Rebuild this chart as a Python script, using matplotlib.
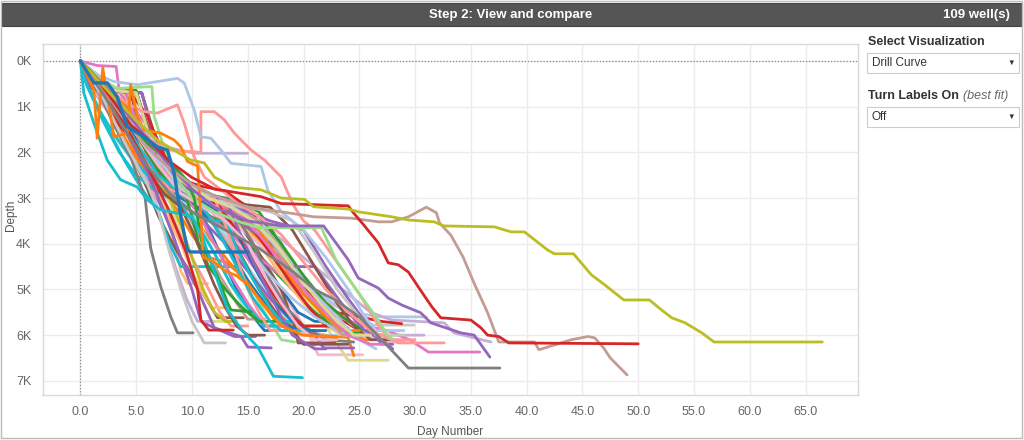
import matplotlib.pyplot as plt
import matplotlib.patches as patches
from matplotlib.ticker import FuncFormatter, MultipleLocator

plt.rcParams['font.family'] = ['Liberation Sans', 'DejaVu Sans']

# drill curves: (day, depth in ft) per well
olive_long = [(0, 0), (1.5, 400), (3, 800), (5, 1300), (7, 1750), (8.1, 1910), (9.9, 2170), (11.1, 2230),
              (12, 2540), (13.7, 2760), (16.2, 2820), (18, 3000), (20.1, 3030), (20.9, 3190), (24, 3240),
              (24.9, 3300), (27.9, 3410), (29.4, 3480), (31.7, 3520), (32.6, 3610), (37.1, 3630), (38.6, 3740),
              (39.8, 3740), (41.9, 4140), (42.5, 4220), (44.2, 4220), (45.8, 4680), (47, 4900), (48.7, 5230),
              (51, 5230), (52.1, 5450), (53, 5620), (54.2, 5730), (55.7, 5950), (56.8, 6150), (66.5, 6150)]
red_long = [(0, 0), (1.5, 400), (3, 900), (4.5, 1400), (6, 1700), (8, 2200), (10, 2550), (12, 2800),
            (16.2, 2970), (18, 3120), (24, 3170), (24.4, 3300), (25.4, 3590), (26.7, 3980), (27.6, 4420),
            (28.5, 4460), (29.4, 4620), (30.3, 4950), (31.5, 5380), (32.3, 5620), (35, 5670), (35.9, 5840),
            (36.5, 6000), (37.5, 6030), (38.4, 6170), (50, 6190)]
rosy_long = [(0, 0), (2, 600), (4, 1300), (6, 1900), (8, 2350), (10, 2700), (12, 2950), (15, 3200), (18, 3300),
             (20.9, 3410), (24.3, 3440), (26.7, 3520), (27.9, 3520), (29.4, 3410), (31, 3200), (31.9, 3320),
             (32.2, 3550), (33.2, 3810), (34.3, 4290), (35.3, 4870), (36.5, 5510), (37.5, 6150), (40.7, 6150),
             (41.1, 6320), (44, 6100), (45.5, 6030), (46.1, 6060), (46.9, 6280), (47.5, 6500), (49, 6870)]
gray_long = [(0, 0), (2, 700), (4, 1500), (6, 2300), (8, 2900), (10, 3300), (13, 3700), (16, 4100), (19, 4600),
             (21, 5000), (23, 5250), (25, 5600), (27, 6100), (29.4, 6720), (37.6, 6720)]
purple_long = [(0, 0), (2, 500), (4, 1100), (6, 1700), (8, 2300), (10, 2800), (12, 3200), (15, 3500), (18, 3610),
               (21.8, 3610), (24, 4350), (24.9, 4750), (26.7, 4970), (27.6, 5190), (28.8, 5340), (30.5, 5510),
               (31.4, 5730), (34.1, 5950), (35.3, 6000), (36.7, 6480)]
lblue_hump = [(0, 0), (1.5, 300), (3, 450), (5.1, 520), (8.7, 380), (9.3, 480), (10.2, 1070), (10.8, 1660),
              (11.7, 1690), (12.6, 1950), (13.5, 2240), (16.2, 2310), (16.8, 2830), (18, 3300), (20, 3700),
              (22, 4300), (24, 5000), (25.5, 5600), (26.5, 5900), (29, 5900)]
salmon_peak1 = [(0, 0), (2, 500), (4, 900), (5.5, 1100), (6.9, 1140), (8.7, 960), (9.3, 1360), (10.2, 2100),
                (11.1, 2540), (12.5, 2800), (14, 3100), (16, 3400), (18, 3800), (20, 4400), (22, 5000),
                (24, 5500), (26, 5900), (28.5, 6170), (32.6, 6170)]
salmon_peak2 = [(0, 0), (2, 700), (4, 1300), (6, 1700), (8, 1950), (10.8, 2000), (10.8, 1110), (12, 1110),
                (12.9, 1290), (13.8, 1580), (14.4, 1730), (15.3, 1950), (16.5, 2170), (17.4, 2390), (18, 2540),
                (18.6, 2890), (19.2, 3200), (20, 3500), (21, 3700), (23, 4400), (25, 5100), (27, 5900),
                (28, 6100), (30, 6100)]
lilac_2k = [(0, 0), (2, 600), (4, 1200), (6, 1600), (8, 1900), (10.2, 2020), (15, 2020)]
lgreen_plateau = [(0, 0), (1.5, 350), (3.3, 600), (6.4, 560), (6.6, 1200), (7.3, 1750), (8, 2200), (9, 2700),
                  (10, 3000), (12, 3300), (14, 3500), (16, 3650), (21.6, 3650), (23, 4400), (25, 5100),
                  (26.5, 5600), (27.5, 6000), (28, 6100)]
orange_zig = [(0, 0), (1.2, 630), (1.5, 1690), (2.0, 150), (3.0, 1660), (4.2, 1580), (4.5, 520), (5.1, 1200),
              (5.7, 1510), (7.2, 1580), (8.4, 1730), (9.0, 1880), (9.6, 2200), (10.5, 2300), (10.8, 3400),
              (11, 4300), (12, 4400), (13, 4600), (14, 4700), (15, 4900), (17, 5500), (18, 5800), (20, 6000),
              (23, 6050)]
blue_thick = [(0, 0), (1.2, 480), (2.4, 480), (3.3, 790), (4.2, 1440), (5.7, 1660), (6.9, 1880), (7.8, 1950),
              (8.4, 2450), (9.0, 3410), (9.6, 4140), (9.9, 4180), (15, 4180)]
cyan_deep = [(0, 0), (0.3, 700), (1.2, 1360), (2.4, 2170), (3.6, 2600), (5.1, 2760), (6, 3040), (7.2, 3260),
             (8.7, 3330), (10, 3400), (11, 3900), (12, 4600), (13.2, 5450), (14.5, 5900), (15.9, 6260),
             (17.3, 6900), (19.9, 6930)]
gray_short = [(0, 0), (1.5, 600), (3, 1400), (4.5, 2100), (5.8, 3000), (6.3, 4100), (7.2, 4940), (8.1, 5600),
              (8.7, 5950), (10.1, 5950)]
lgray_short = [(0, 0), (2, 800), (4, 1800), (6, 2700), (7, 3300), (8, 4200), (9, 5000), (10, 5700), (11.1, 6170),
               (13, 6170)]
purple_mid = [(0, 0), (2, 700), (4, 1500), (6, 2400), (7.5, 3300), (9, 4300), (10.5, 5000), (12, 5840),
              (14.4, 6030), (15, 6260), (17.1, 6280)]
red_short = [(0, 0), (2, 600), (4, 1400), (6, 2300), (8, 3300), (9.5, 4200), (10.5, 5000), (10.8, 5670),
             (11.5, 5890), (13.7, 5890)]
green_mid = [(0, 0), (2, 600), (4, 1300), (6, 1800), (8, 2200), (9.5, 2600), (10.2, 3000), (10.9, 4000),
             (12.3, 4720), (13.2, 5300), (13.5, 5450), (15.3, 5490)]

g01 = [(0, 0), (0.8, 500), (4, 650), (5, 1500), (6.5, 2200), (8, 2700), (9.5, 3000), (11, 3400), (12.5, 4200),
       (14, 5000), (15.5, 5600), (16.5, 5900), (18, 5900)]
g02 = [(0, 0), (1, 600), (4.5, 700), (5.5, 1500), (7, 2200), (9, 2700), (11, 3000), (13, 3200), (14.5, 3900),
       (16.5, 4700), (18.5, 5400), (20, 5900), (22, 6000)]
g03 = [(0, 0), (0.8, 400), (2.5, 1100), (4, 1800), (5.5, 2400), (7, 2800), (8, 3500), (9, 4600), (9.6, 4870),
       (11.4, 4870)]
g04 = [(0, 0), (1.5, 600), (5.5, 700), (6.5, 1600), (8, 2300), (10, 2700), (12, 2950), (14, 3050), (16, 3300),
       (18, 4000), (20, 4900), (21.5, 5500), (23, 5900), (25, 5950)]
g05 = [(0, 0), (1, 400), (3, 1000), (5, 1700), (7, 2300), (9, 2800), (11, 3200), (13, 3900), (15, 4800),
       (16.5, 5500), (18, 6100), (19.2, 6150)]
g06 = [(0, 0), (1.2, 550), (5, 650), (6, 1500), (7.5, 2200), (9, 2600), (11, 2750), (13, 2850), (15, 3200),
       (17, 3900), (19, 4600), (21, 5200), (23, 5600), (25, 5900), (27, 6000)]
g07 = [(0, 0), (1, 400), (3, 1000), (4.5, 1600), (6.5, 2300), (8.5, 2800), (10.5, 3200), (12.5, 3700),
       (14.5, 4400), (16.5, 5100), (18, 5700), (19.5, 6000), (21.5, 6000)]
g08 = [(0, 0), (1.5, 500), (3.5, 1200), (5, 2000), (6.5, 2800), (8, 3600), (9, 4300), (10, 5000), (10.8, 5700),
       (12, 5840), (13.8, 6030), (15.7, 6030)]
g09 = [(0, 0), (1, 600), (3, 1300), (5, 2100), (6.5, 2900), (7.5, 3700), (8.5, 4500), (9.5, 5200), (10.5, 5700),
       (12, 5700)]
g10 = [(0, 0), (1, 500), (3, 1200), (4.5, 2000), (6, 2800), (7, 3400), (8.5, 4100), (10, 4700), (11.5, 5300),
       (12.3, 5620), (14.6, 5620)]
g11 = [(0, 0), (0.8, 600), (5, 700), (6, 1400), (7.5, 2100), (9, 2600), (11, 2900), (13, 3100), (15, 3300),
       (17, 3800), (19, 4400), (21, 5000), (23, 5500), (25, 5900), (26.5, 6100), (28, 6100)]
g12 = [(0, 0), (1.5, 100), (3.2, 120), (3.5, 700), (5, 1100), (6.5, 1600), (8, 2200), (9.5, 2700), (11, 3100),
       (12.5, 3500), (14, 4000), (15.5, 4500), (17, 5000), (18.5, 5500), (20, 5900), (21.5, 6000)]
g13 = [(0, 0), (1, 500), (3, 1000), (5, 1700), (7, 2400), (9, 2900), (11, 3300), (13, 3700), (15, 4200),
       (17, 4800), (19, 5400), (20.5, 6000), (21.3, 6430), (25.3, 6430)]
g16 = [(0, 0), (1, 600), (4, 700), (5.5, 1500), (7, 2300), (9, 2800), (11, 3100), (13, 3400), (15, 4200),
       (17, 5000), (18.5, 5600), (20, 5800), (22, 5800)]
g17 = [(0, 0), (1.5, 600), (4.5, 700), (5.5, 1500), (7, 2200), (9, 2700), (11, 3000), (13, 3300), (15, 3700),
       (17, 4300), (19, 4900), (21, 5400), (22.5, 6000), (24, 6550), (27.6, 6550)]
g19 = [(0, 0), (1, 500), (3, 1200), (5, 1900), (7, 2500), (9, 3000), (11, 3300), (13, 3800), (15, 4500),
       (17, 5200), (19, 5800), (20.5, 6000), (23, 6000)]
g20 = [(0, 0), (1.5, 500), (4, 900), (6, 1700), (8, 2500), (10, 3000), (12, 3300), (14, 3700), (16, 4300),
       (18, 5000), (19.5, 5500), (21, 5700), (23, 5700)]
g21 = [(0, 0), (1, 500), (3, 600), (4, 1200), (6, 2000), (8, 2600), (10, 2900), (12, 3100), (14, 3400),
       (16, 3900), (18, 4500), (20, 5100), (22, 5500), (24, 5900), (25.5, 6100), (27, 6100)]
g22 = [(0, 0), (0.8, 300), (2, 800), (3.5, 1300), (5, 2000), (7, 2700), (9, 3200), (11, 3700), (13, 4300),
       (15, 4900), (17, 5400), (19, 5800), (21, 6000), (24, 6050), (24.5, 6450)]
g23 = [(0, 0), (1, 500), (3, 1100), (5, 1800), (7, 2500), (9, 3000), (11, 3300), (13, 3600), (15, 4000),
       (17, 4500), (19, 5000), (21, 5500), (23.5, 5950), (25.3, 5950)]
g24 = [(0, 0), (1.2, 600), (5.5, 700), (6.5, 1500), (8, 2300), (10, 2900), (12, 3200), (14, 3500), (16, 4200),
       (18, 5000), (19.2, 5800), (19.5, 6170), (22.8, 6170)]
g25 = [(0, 0), (1, 500), (3, 1100), (5, 1900), (7, 2600), (9, 3100), (11, 3500), (13, 4000), (15, 4600),
       (17, 5200), (19, 5700), (21, 6000), (21.8, 6280), (24.5, 6280)]
g26 = [(0, 0), (1.5, 600), (5, 700), (6, 1500), (7.5, 2200), (9.5, 2700), (12, 3000), (14, 3200), (16, 3600),
       (18, 4200), (20, 4800), (22, 5300), (24, 5700), (26.3, 6000), (30.8, 6000)]
g27 = [(0, 0), (1, 600), (4, 700), (5, 1400), (6.5, 2100), (8.5, 2600), (10.5, 2900), (12.5, 3000), (14.5, 3200),
       (16.5, 3700), (18.5, 4300), (20.5, 4900), (22.5, 5300), (24.5, 5600), (26.3, 5780), (29.9, 5780)]
g28 = [(0, 0), (1.5, 500), (4, 1000), (6, 1800), (8, 2500), (10, 2900), (12, 3100), (14, 3300), (16, 3700),
       (18, 4200), (20, 4800), (22, 5200), (24, 5500), (27, 5600), (31, 5600)]
g29 = [(0, 0), (1.5, 300), (3, 900), (5, 1700), (7, 2400), (9, 2900), (11, 3300), (13, 3700), (15, 4100),
       (17, 4500), (19, 4900), (21, 5300), (23, 5600), (25.5, 5800), (27.5, 5900), (29.5, 6100), (31.2, 6370),
       (35.8, 6370)]
g30 = [(0, 0), (2, 700), (4, 1300), (6, 1900), (8, 2400), (10, 2800), (12, 3100), (14, 3300), (16, 3600),
       (18, 3900), (20, 4300), (22, 4700), (24, 5100), (26, 5500), (27.9, 5670), (32.6, 5730), (33.5, 5950),
       (36.8, 6150)]
g31 = [(0, 0), (1, 500), (3, 800), (5, 1600), (7, 2300), (9, 2700), (11, 2900), (13, 3200), (15, 3600),
       (17, 4100), (19, 4600), (20.5, 5000), (21.5, 5300), (23.1, 5510), (25, 5600), (27, 5700), (28.8, 5750)]
g33 = [(0, 0), (1, 700), (2.5, 1500), (4, 2200), (5.5, 2800), (7, 3300), (8, 4000), (9, 4500), (13.9, 4500)]
g34 = [(0, 0), (1.5, 500), (4, 700), (5, 1300), (6.5, 2000), (8, 2600), (10, 3000), (12, 3200), (14, 3500),
       (16, 4000), (18, 4700), (20, 5300), (22, 5800), (23.5, 6000), (26, 6000)]
g35 = [(0, 0), (0.7, 600), (2, 1200), (3.5, 1800), (5, 2300), (7, 2700), (9, 3000), (10.5, 3500), (12, 4200),
       (13.5, 4900), (15, 5500), (16.5, 5800), (18, 5800)]
g36 = [(0, 0), (1, 400), (3, 800), (5, 1500), (7, 2100), (9, 2600), (11, 3000), (13, 3400), (15, 3800),
       (17, 4200), (19, 4700), (21, 5100), (23, 5500), (25, 5900), (27, 6150), (29, 6150)]
g37 = [(0, 0), (1, 600), (4.5, 700), (5.5, 1600), (7, 2400), (8.5, 2800), (10, 3100), (12, 3300), (13, 3600),
       (14.5, 4300), (16, 5000), (17.5, 5500), (19, 5900), (20, 6200), (24, 6200)]
g39 = [(0, 0), (1, 500), (3, 700), (4.5, 1500), (6, 2200), (7.5, 2700), (9, 3000), (10.5, 3200), (12, 3600),
       (13.5, 4200), (15, 4800), (16.5, 5300), (18, 5700), (19.5, 5900), (21, 5900)]
g40 = [(0, 0), (1, 500), (2.5, 1100), (4, 1700), (5.5, 2300), (7, 2800), (8.5, 3200), (10, 3800), (11.5, 4300),
       (13, 4400), (14.5, 4700), (16, 5200), (17.5, 5700), (19, 5900), (20.5, 5900)]
g41 = [(0, 0), (1.5, 600), (5, 650), (6, 1500), (7, 2100), (8.5, 2500), (10, 2800), (12, 2950), (14, 3100),
       (16, 3400), (18, 4000), (20, 4700), (22, 5300), (24, 5700), (25.5, 5900), (27, 5900)]
g42 = [(0, 0), (1, 300), (2, 900), (3.5, 1400), (4.5, 1700), (6, 2000), (7.5, 2600), (9, 2800), (11, 2950),
       (13, 3100), (15, 3500), (17, 4200), (19, 4900), (20.5, 5400), (22, 5800), (24, 5850)]
g43 = [(0, 0), (1, 600), (4, 700), (5, 1500), (6.5, 2200), (8, 2700), (10, 3000), (12, 3300), (14, 3500),
       (16, 3800), (18, 4200), (19, 4500), (21, 4500), (22.5, 5000), (24, 5500), (25.5, 5900), (27, 6100),
       (28, 6300)]
g44 = [(0, 0), (1, 500), (3, 1100), (5, 1800), (6.5, 2400), (8, 2800), (9.5, 3300), (11, 4000), (12.5, 4700),
       (14, 5300), (15, 5650), (16.5, 5650)]
g45 = [(0, 0), (1, 400), (3, 900), (4.5, 1400), (6, 2000), (7.5, 2500), (9, 2900), (10.5, 3300), (12, 4000),
       (13.5, 4700), (15, 5300), (16.5, 5800), (18.5, 5800)]
g46 = [(0, 0), (1.2, 600), (5, 700), (6, 1500), (7.5, 2300), (9, 2800), (11, 3000), (13, 3200), (14, 3400),
       (15.5, 4000), (17, 4800), (18.5, 5400), (20, 5800), (22, 6100), (24.5, 6150)]
g48 = [(0, 0), (0.5, 400), (1.5, 1000), (3, 1600), (4.5, 2100), (6, 2500), (7.5, 2900), (9, 3200), (10.5, 3600),
       (12, 4200), (13.5, 4900), (15, 5400), (16.5, 5800), (17.5, 5800)]
g49 = [(0, 0), (1, 600), (3, 1100), (5, 1900), (6.5, 2600), (8, 3100), (9, 3800), (10, 4600), (11, 5300),
       (11.8, 5700), (13, 5700)]
g50 = [(0, 0), (1, 500), (2.5, 1100), (4, 1800), (5.5, 2500), (7, 3000), (8.5, 3600), (10, 4300), (11.5, 5000),
       (12.5, 5500), (13.5, 5800), (15, 5800)]
g51 = [(0, 0), (1, 300), (3, 800), (5, 1500), (7, 2200), (9, 2800), (11, 3100), (13, 3500), (15, 4100),
       (17, 4700), (19, 5200), (21, 5600), (23, 5900), (25, 6100), (26.5, 6300)]
g52 = [(0, 0), (1, 600), (4, 700), (5, 1500), (6, 2300), (7, 2900), (8, 3500), (9, 4000), (10, 4600), (11, 5100),
       (11.8, 5400), (13, 5400)]
g53 = [(0, 0), (1, 600), (5, 700), (6, 1400), (7.5, 2100), (9, 2600), (11, 2900), (13, 3100), (15, 3150),
       (17, 3200), (19, 3700), (21, 4500), (23, 5300), (24.5, 5800), (26, 6100), (28, 6100)]
g54 = [(0, 0), (1.5, 500), (4, 900), (6, 1600), (8, 2300), (10, 2800), (12, 3000), (14, 3200), (16, 3500),
       (18, 4300), (20, 5000), (22, 5600), (23.5, 6000), (25, 6000)]
g55 = [(0, 0), (1, 600), (5.5, 700), (6.5, 1600), (8, 2300), (10, 2800), (12, 3100), (15, 3300), (17, 3500),
       (20, 3700), (22, 4500), (24, 5200), (25.5, 5700), (27, 6200), (28, 6200)]
g56 = [(0, 0), (0.5, 500), (2, 1300), (3.5, 2000), (5, 2500), (6.5, 2800), (8, 3000), (10, 3300), (11.5, 3500),
       (13, 3500), (14, 4100), (15.5, 4800), (17, 5400), (18, 5700), (19.5, 5700)]
g57 = [(0, 0), (1, 500), (3, 800), (4.5, 1400), (6, 2000), (7.5, 2500), (9, 2900), (11, 3100), (13, 3400),
       (14.5, 4000), (16, 4700), (17.5, 5300), (19, 5700), (20.5, 5900), (22, 5900)]
g58 = [(0, 0), (1.5, 500), (3, 700), (4.5, 1100), (6, 1600), (7.5, 2100), (9, 2600), (10.5, 2900), (12, 3100),
       (14, 3300), (16, 3700), (18, 4400), (20, 5100), (22, 5600), (23.5, 5900), (25, 5900)]
g59 = [(0, 0), (1, 500), (4, 650), (5, 1300), (6.5, 2000), (8, 2500), (10, 2900), (12, 3100), (14, 3300),
       (16, 3800), (18, 4400), (20, 5000), (22, 5500), (24, 6000), (26, 6200), (27.5, 6200)]
g60 = [(0, 0), (1, 400), (3, 900), (5, 1600), (6.5, 2200), (8, 2700), (9.5, 3000), (10, 3400), (10.6, 4000),
       (11.5, 4500), (13, 5000), (14.5, 5400), (16, 5700), (17.5, 5700)]
g61 = [(0, 0), (1.5, 600), (4.5, 700), (6, 1200), (7, 1800), (8, 2300), (9.5, 2600), (11, 2900), (12.5, 3200),
       (14, 3700), (15.5, 4400), (17, 5000), (18.5, 5500), (20, 5800), (22, 5800)]
g62 = [(0, 0), (1, 500), (3, 1000), (5, 1600), (7, 2200), (9, 2600), (11, 2900), (13, 3100), (15, 3400),
       (17, 3900), (19, 4500), (21, 5100), (23, 5600), (24.5, 6000), (26, 6000)]
g63 = [(0, 0), (1, 600), (5, 700), (6, 1500), (7.5, 2200), (9, 2700), (11, 3000), (13, 3000), (14, 3600),
       (15.5, 4400), (17, 5100), (18, 5600), (19, 6000), (21, 6300), (22, 6300)]
g64 = [(0, 0), (1, 500), (3, 1000), (5, 1800), (6.5, 2400), (8, 2800), (10, 3000), (12, 3000), (13, 3600),
       (14, 4300), (15, 5000), (16, 5500), (17, 5900), (19, 5900)]
g65 = [(0, 0), (1, 400), (3, 1100), (5, 1900), (6.5, 2600), (8, 3000), (9, 3600), (10, 4300), (11, 5000),
       (12, 5500), (13, 5700), (14, 5700)]
g66 = [(0, 0), (1.5, 600), (5, 700), (6, 1500), (7.5, 2300), (9, 2800), (11, 3000), (13, 3100), (15, 3200),
       (17, 3300), (19, 3500), (21, 4200), (23, 5000), (25, 5600), (26.5, 6000), (29, 6000)]
g67 = [(0, 0), (1, 500), (3, 1100), (5, 1800), (7, 2500), (9, 2900), (11, 3200), (12.5, 3800), (14, 4500),
       (15.5, 5200), (17, 5700), (18, 5900), (20, 5900)]
g68 = [(0, 0), (1, 400), (3, 900), (5, 1600), (7, 2300), (9, 2900), (11, 3200), (13, 3500), (15, 4000),
       (16.5, 4700), (18, 5300), (19.5, 5800), (21, 6100), (23, 6100)]
g69 = [(0, 0), (1.5, 600), (5, 700), (6, 1500), (7.5, 2200), (9.5, 2700), (11.5, 3000), (13.5, 3200),
       (15.5, 3500), (17.5, 4000), (19.5, 4700), (21.5, 5300), (23, 5700), (24.5, 6000), (26, 6000)]
g70 = [(0, 0), (1, 500), (3, 1000), (4.5, 1700), (6, 2400), (7.5, 2900), (9, 3200), (10, 3700), (11, 4300),
       (12, 4900), (13, 5400), (14, 5800), (15, 6000), (16.5, 6000)]

bundle = [
    (g01, '#1f77b4'), (g02, '#aec7e8'), (g03, '#ffbb78'), (g04, '#2ca02c'), (g05, '#98df8a'),
    (g06, '#d62728'), (g07, '#ff9896'), (g08, '#9467bd'), (g09, '#c5b0d5'), (g10, '#8c564b'),
    (g11, '#c49c94'), (g12, '#e377c2'), (g13, '#f7b6d2'), (g16, '#bcbd22'), (g17, '#dbdb8d'),
    (g19, '#9edae5'), (g20, '#1f77b4'), (g21, '#ff7f0e'), (g22, '#ff7f0e'), (g23, '#2ca02c'),
    (g24, '#8c564b'), (g25, '#9467bd'), (g26, '#c5b0d5'), (g27, '#c7c7c7'), (g28, '#aec7e8'),
    (g29, '#e377c2'), (g30, '#c5b0d5'), (g31, '#d62728'), (g33, '#17becf'), (g34, '#ffbb78'),
    (g35, '#9edae5'), (g36, '#f7b6d2'), (g37, '#8c564b'), (g39, '#1f77b4'), (g40, '#ff7f0e'),
    (g41, '#2ca02c'), (g42, '#d62728'), (g43, '#9467bd'), (g44, '#c49c94'), (g45, '#e377c2'),
    (g46, '#7f7f7f'), (g48, '#17becf'), (g49, '#dbdb8d'), (g50, '#ff9896'), (g51, '#aec7e8'),
    (g52, '#ffbb78'), (g53, '#8c564b'), (g54, '#c49c94'), (g55, '#9467bd'), (g56, '#17becf'),
    (g57, '#1f77b4'), (g58, '#ff7f0e'), (g59, '#e377c2'), (g60, '#2ca02c'), (g61, '#d62728'),
    (g62, '#aec7e8'), (g63, '#9467bd'), (g64, '#ff9896'), (g65, '#bcbd22'), (g66, '#c7c7c7'),
    (g67, '#17becf'), (g68, '#f7b6d2'), (g69, '#dbdb8d'), (g70, '#8c564b'),
    (lilac_2k, '#c5b0d5'), (salmon_peak1, '#ff9896'), (salmon_peak2, '#ff9896'), (lblue_hump, '#aec7e8'),
    (lgreen_plateau, '#98df8a'), (gray_short, '#7f7f7f'), (lgray_short, '#c7c7c7'), (purple_mid, '#9467bd'),
    (red_short, '#d62728'), (green_mid, '#2ca02c'), (cyan_deep, '#17becf'), (orange_zig, '#ff7f0e'),
    (purple_long, '#9467bd'), (gray_long, '#7f7f7f'), (rosy_long, '#c49c94'), (red_long, '#d62728'),
    (olive_long, '#bcbd22'), (blue_thick, '#1f77b4'),
]

W, H = 1024, 440
fig = plt.figure(figsize=(W / 100, H / 100), dpi=100)
fig.patch.set_facecolor('white')


def fx(px):
    return px / W


def fy(py):
    return 1 - py / H


# title bar and outer frame
fig.patches.append(patches.Rectangle((fx(2), fy(26)), fx(1020), 23 / H, transform=fig.transFigure,
                                     facecolor='#555555', edgecolor='#444444', lw=0.8))
fig.patches.append(patches.Rectangle((fx(1), fy(438)), fx(1021), 437 / H, transform=fig.transFigure,
                                     facecolor='none', edgecolor='#bbbbbb', lw=1))
fig.text(fx(511), fy(15), 'Step 2: View and compare', color='white', fontsize=9.5, fontweight='bold',
         ha='center', va='center', family=['Liberation Sans Narrow', 'Liberation Sans', 'DejaVu Sans'])
fig.text(fx(1010), fy(15), '109 well(s)', color='white', fontsize=9.5, fontweight='bold',
         ha='right', va='center', family=['Liberation Sans Narrow', 'Liberation Sans', 'DejaVu Sans'])

ax = fig.add_axes([fx(42.5), fy(395), (858 - 42.5) / W, (395 - 44.3) / H])
for pts, col in bundle:
    xs = [p[0] for p in pts]
    ys = [p[1] for p in pts]
    lw = 2.4 if pts is blue_thick else 2.0
    ax.plot(xs, ys, color=col, lw=lw, solid_joinstyle='round', solid_capstyle='round')

ax.set_xlim(-3.4, 69.7)
ax.set_ylim(7310, -365)
ax.xaxis.set_major_locator(MultipleLocator(5))
ax.yaxis.set_major_locator(MultipleLocator(1000))
ax.xaxis.set_major_formatter(FuncFormatter(lambda v, p: f'{v:.1f}'))
ax.yaxis.set_major_formatter(FuncFormatter(lambda v, p: f'{int(round(v / 1000))}K'))
ax.grid(True, color='#ececec', lw=1)
ax.set_axisbelow(True)
ax.axhline(0, color='#888888', lw=0.9, ls=(0, (1, 1.5)), zorder=1)
ax.axvline(0, color='#888888', lw=0.9, ls=(0, (1, 1.5)), zorder=1)
for s in ax.spines.values():
    s.set_color('#d9d9d9')
    s.set_linewidth(1)
ax.tick_params(length=0, colors='#666666', labelsize=9, pad=8)
ax.set_xlabel('Day Number', color='#555555', fontsize=8.5, labelpad=6)
fig.text(fx(11), fy(215), 'Depth', color='#555555', fontsize=8.5, rotation=90, ha='center', va='center')

# right panel
fig.text(fx(868), fy(42), 'Select Visualization', fontsize=9, fontweight='bold', color='#333333',
         ha='left', va='center')
fig.patches.append(patches.Rectangle((fx(867), fy(73)), fx(152), 20 / H, transform=fig.transFigure,
                                     facecolor='white', edgecolor='#cccccc', lw=0.8))
fig.text(fx(872), fy(63), 'Drill Curve', fontsize=8.5, color='#333333', ha='left', va='center')
fig.text(fx(1011), fy(63), '▼', fontsize=5.5, color='#333333', ha='center', va='center')
lab = fig.text(fx(868), fy(96), 'Turn Labels On', fontsize=9, fontweight='bold', color='#333333',
               ha='left', va='center')
fig.canvas.draw()
bb = lab.get_window_extent()
fig.text((bb.x1 + 4) / W, fy(96), '(best fit)', fontsize=9, style='italic', color='#666666',
         ha='left', va='center')
fig.patches.append(patches.Rectangle((fx(867), fy(127)), fx(152), 20 / H, transform=fig.transFigure,
                                     facecolor='white', edgecolor='#cccccc', lw=0.8))
fig.text(fx(872), fy(117), 'Off', fontsize=8.5, color='#333333', ha='left', va='center')
fig.text(fx(1011), fy(117), '▼', fontsize=5.5, color='#333333', ha='center', va='center')

fig.savefig('out.png', dpi=100)
